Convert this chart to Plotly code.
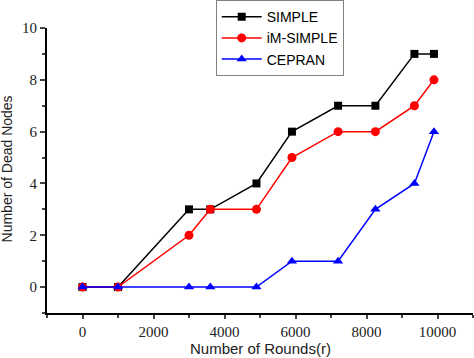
import plotly.graph_objects as go

rounds = [0, 1000, 3000, 3600, 4900, 5900, 7200, 8250, 9350, 9900]
simple = [0, 0, 3, 3, 4, 6, 7, 7, 9, 9]
im_simple = [0, 0, 2, 3, 3, 5, 6, 6, 7, 8]
cepran = [0, 0, 0, 0, 0, 1, 1, 3, 4, 6]
x_ticks = [0, 2000, 4000, 6000, 8000, 10000]
y_ticks = [0, 2, 4, 6, 8, 10]

fig = go.Figure()
fig.add_trace(go.Scatter(x=rounds, y=simple, name="SIMPLE", mode="lines+markers",
                         line=dict(color="black", width=1.5),
                         marker=dict(symbol="square", size=8, color="black")))
fig.add_trace(go.Scatter(x=rounds, y=im_simple, name="iM-SIMPLE", mode="lines+markers",
                         line=dict(color="red", width=1.5),
                         marker=dict(symbol="circle", size=9, color="red")))
fig.add_trace(go.Scatter(x=rounds, y=cepran, name="CEPRAN", mode="lines+markers",
                         line=dict(color="blue", width=1.5),
                         marker=dict(symbol="triangle-up", size=9, color="blue")))

fig.update_layout(
    width=474, height=358,
    margin=dict(l=47, r=1, t=27, b=45),
    plot_bgcolor="white", paper_bgcolor="white",
    font=dict(family="Liberation Serif", color="#222", size=15),
    legend=dict(x=0.396, y=1.094, xanchor="left", yanchor="top",
                bordercolor="gray", borderwidth=1, bgcolor="white",
                font=dict(family="Liberation Sans", size=14, color="black"),
                tracegroupgap=0, itemwidth=40),
    xaxis=dict(range=[-1000, 11000], tickvals=x_ticks, ticktext=[str(v) for v in x_ticks],
               tickfont=dict(family="Liberation Serif", size=15),
               ticks="outside", ticklen=4, tickwidth=1.5, showline=True, linecolor="black",
               linewidth=2, showgrid=False, zeroline=False, automargin=False,
               minor=dict(dtick=1000, tick0=-1000, ticks="outside", ticklen=3, tickwidth=1.5, showgrid=False)),
    yaxis=dict(range=[-1, 10], tickvals=y_ticks,
               tickfont=dict(family="Liberation Serif", size=15),
               ticks="outside", ticklen=5, tickwidth=1.5, showline=True, linecolor="black",
               linewidth=2, showgrid=False, zeroline=False, automargin=False,
               minor=dict(dtick=1, tick0=-1, ticks="outside", ticklen=3, tickwidth=1.5, showgrid=False)),
    annotations=[
        dict(text="Number of Rounds(r)", xref="paper", yref="paper", x=0.5, y=-0.088,
             xanchor="center", yanchor="top", showarrow=False,
             font=dict(family="Liberation Sans", size=15, color="#222")),
        dict(text="Number of Dead Nodes", xref="paper", yref="paper", x=-0.093, y=0.505,
             xanchor="center", yanchor="middle", showarrow=False, textangle=-90,
             font=dict(family="Liberation Sans Narrow, Liberation Sans", size=14, color="#222")),
    ],
)
fig.write_html("out.html", config={"displayModeBar": False},
               post_script="document.body.style.margin='0';document.body.style.overflow='hidden';")
